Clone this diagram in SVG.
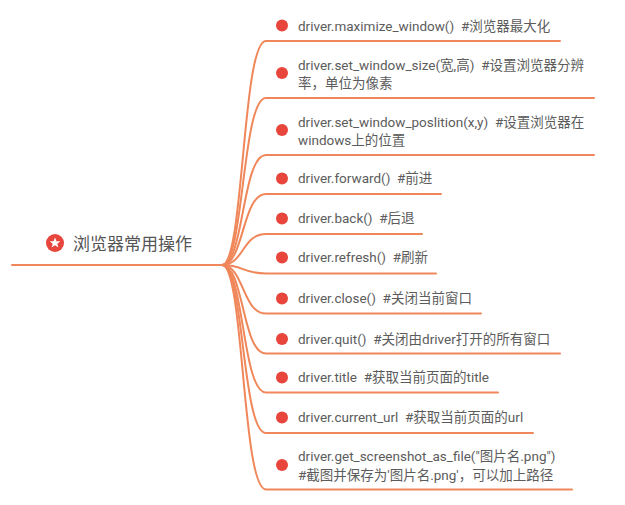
<svg xmlns="http://www.w3.org/2000/svg" width="625" height="505" viewBox="0 0 625 505">
<defs>
<style>
.ln{fill:none;stroke:#F0875A;stroke-width:2;stroke-linecap:round}
.t{font-family:Roboto,"Noto Sans CJK SC",sans-serif;font-size:13.5px;fill:#5c5c5c;white-space:pre}
.root{font-family:"Noto Sans CJK SC",sans-serif;font-size:17px;fill:#555}
.b{fill:#E8453C}
</style>
</defs>
<rect width="625" height="505" fill="#fff"/>
<g id="connectors">
<path class="ln" d="M12,265 L222,265"/>
<path class="ln" d="M222,265 C244,265 242,41 266,41 L560,41"/>
<path class="ln" d="M222,265 C244,265 242,98 266,98 L594,98"/>
<path class="ln" d="M222,265 C244,265 242,155 266,155 L594,155"/>
<path class="ln" d="M222,265 C244,265 242,194 266,194 L441,194"/>
<path class="ln" d="M222,265 C244,265 242,234 266,234 L422,234"/>
<path class="ln" d="M222,265 C244,265 242,273.5 266,273.5 L436,273.5"/>
<path class="ln" d="M222,265 C244,265 242,313.5 266,313.5 L481,313.5"/>
<path class="ln" d="M222,265 C244,265 242,353.5 266,353.5 L560,353.5"/>
<path class="ln" d="M222,265 C244,265 242,392.5 266,392.5 L498,392.5"/>
<path class="ln" d="M222,265 C244,265 242,433 266,433 L533,433"/>
<path class="ln" d="M222,265 C244,265 242,489.5 266,489.5 L572,489.5"/>
</g>
<g id="root">
<circle cx="55" cy="243" r="9" fill="#E8453C"/>
<polygon fill="#fff" points="55,237.5 56.5,241.2 60.4,241.3 57.3,243.7 58.4,247.5 55,245.3 51.6,247.5 52.7,243.7 49.6,241.3 53.5,241.2"/>
<text class="root" x="73" y="249.5">浏览器常用操作</text>
</g>
<g id="n1"><circle class="b" cx="282" cy="25.5" r="6"/><text class="t" x="298" y="30.5" xml:space="preserve">driver.maximize_window()  #浏览器最大化</text></g>
<g id="n2"><circle class="b" cx="282" cy="73" r="6"/><text class="t" x="298" y="70" xml:space="preserve">driver.set_window_size(宽,高)  #设置浏览器分辨</text><text class="t" x="298" y="88">率，单位为像素</text></g>
<g id="n3"><circle class="b" cx="282" cy="130" r="6"/><text class="t" x="298" y="127" xml:space="preserve">driver.set_window_poslition(x,y)  #设置浏览器在</text><text class="t" x="298" y="145">windows上的位置</text></g>
<g id="n4"><circle class="b" cx="282" cy="178.5" r="6"/><text class="t" x="298" y="183" xml:space="preserve">driver.forward()  #前进</text></g>
<g id="n5"><circle class="b" cx="282" cy="218.5" r="6"/><text class="t" x="298" y="223" xml:space="preserve">driver.back()  #后退</text></g>
<g id="n6"><circle class="b" cx="282" cy="257.5" r="6"/><text class="t" x="298" y="262" xml:space="preserve">driver.refresh()  #刷新</text></g>
<g id="n7"><circle class="b" cx="282" cy="298.5" r="6"/><text class="t" x="298" y="303" xml:space="preserve">driver.close()  #关闭当前窗口</text></g>
<g id="n8"><circle class="b" cx="282" cy="339" r="6"/><text class="t" x="298" y="343.5" xml:space="preserve">driver.quit()  #关闭由driver打开的所有窗口</text></g>
<g id="n9"><circle class="b" cx="282" cy="377.5" r="6"/><text class="t" x="298" y="382" xml:space="preserve">driver.title  #获取当前页面的title</text></g>
<g id="n10"><circle class="b" cx="282" cy="417.5" r="6"/><text class="t" x="298" y="422" xml:space="preserve">driver.current_url  #获取当前页面的url</text></g>
<g id="n11"><circle class="b" cx="282" cy="465" r="6"/><text class="t" x="298" y="461">driver.get_screenshot_as_file("图片名.png")</text><text class="t" x="298" y="479.5">#截图并保存为'图片名.png'，可以加上路径</text></g>
</svg>
